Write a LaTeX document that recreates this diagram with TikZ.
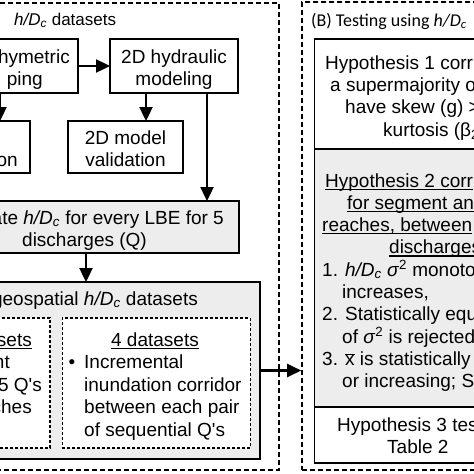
\documentclass[tikz,border=0pt]{standalone}
\usepackage{fontspec}
\setmainfont{Liberation Sans}
\newfontfamily\calibri{Carlito}
\usetikzlibrary{arrows.meta,positioning}
\newcommand{\hDc}{\textit{h/D}\textsubscript{\textit{c}}}
\newcommand{\ulin}[1]{\leavevmode\setbox0\hbox{#1}\rlap{\rule[-2.6pt]{\wd0}{1.1pt}}\box0}
\newcommand{\sq}{\textit{σ}\textsuperscript{2}}
\begin{document}
\begin{tikzpicture}[x=1pt, y=-1pt,
	font=\fontsize{19}{22.3}\selectfont,
	box/.style={draw, line width=1.3pt, inner sep=0pt, outer sep=0pt},
	shade/.style={fill=black!7},
	frame/.style={draw, line width=1.6pt, dash pattern=on 5pt off 3pt, inner sep=0pt},
	dbox/.style={draw, line width=1.2pt, dash pattern=on 3pt off 2pt, fill=white, inner sep=0pt},
	txt/.style={inner sep=0pt, anchor=base west},
	txtr/.style={inner sep=0pt, anchor=base east},
	txtc/.style={inner sep=0pt, anchor=base},
	arr/.style={-{Triangle[length=14pt,width=13pt]}, line width=2.4pt}]
	
	\useasboundingbox (0,0) rectangle (474,474);
	\fill[white] (0,0) rectangle (474,474);
	
	% Two dashed panels
	\node[frame, minimum width=299pt, minimum height=467pt] (panelA) at (129.5,236.5) {};
	\node[frame, minimum width=318pt, minimum height=468pt] (panelB) at (461,236) {};
	\node[txt, font=\fontsize{17}{20}\selectfont] (titleA) at (14,25) {\hDc{} datasets};
	\node[txt, font=\calibri\fontsize{18}{20}\selectfont] (titleB) at (311,26) {(B) Testing using \hDc};
	
	% Panel A: boxes
	\node[box, minimum width=138pt, minimum height=54pt] (bathy) at (9,66) {};
	\node[box, minimum width=128pt, minimum height=54pt, right=32pt of bathy] (hydro) {};
	\node[box, minimum width=115pt, minimum height=52pt] (valid) at (125.5,147) {};
	\node[box, minimum width=110pt, minimum height=52pt] (bval) at (-25,147) {};
	\node[box, shade, minimum width=339pt, minimum height=52pt] (hdc) at (69.5,227) {};
	\node[box, shade, minimum width=360pt, minimum height=177pt] (geo) at (80,370.5) {};
	\node[dbox, minimum width=150pt, minimum height=130pt] (dsfive) at (-25,383) {};
	\node[dbox, minimum width=188pt, minimum height=130pt, right=11pt of dsfive] (dsfour) {};
	
	% Panel A: texts
	\node[txtr] (bathyT1) at (70,63) {hymetric};
	\node[txtr] (bathyT2) at (43,85) {ping};
	\node[txtc] (hydroT1) at (174,63) {2D hydraulic};
	\node[txtc] (hydroT2) at (174,85) {modeling};
	\node[txtc] (validT1) at (125.5,144) {2D model};
	\node[txtc] (validT2) at (125.5,166) {validation};
	\node[txtr] (bvalT) at (18,166) {on};
	\node[txtr] (hdcT1) at (224,224) {ate \hDc{} for every LBE for 5};
	\node[txt] (hdcT2) at (22,246) {discharges (Q)};
	\node[txtr] (geoT) at (198,305) {geospatial \hDc{} datasets};
	\node[txtr] (dsfiveT1) at (32,346) {\ulin{sets}};
	\node[txtr] (dsfiveT2) at (10,368.5) {nt};
	\node[txtr] (dsfiveT3) at (42,391) {5 Q\textquotesingle s};
	\node[txtr] (dsfiveT4) at (32,413.5) {ches};
	\node[txtc] (dsfourT) at (155,346) {\ulin{4 datasets}};
	\node[txtc] (bullet) at (72,368.5) {•};
	\foreach \txt [count=\i] in {Incremental, inundation corridor, between each pair, of sequential Q\textquotesingle s}
		\node[txt] (dsfour\i) at (84,{346+22.5*\i}) {\txt};
	
	% Panel A: arrows
	\coordinate (xa) at (146,0);
	\coordinate (xb) at (207,0);
	\coordinate (xc) at (86,0);
	\coordinate (xd) at (0,0);
	\draw[arr] (bathy.east) -- (hydro.west);
	\draw[arr] (hydro.south -| xa) -- (valid.north -| xa);
	\draw[arr] (hydro.south -| xb) -- (hdc.north -| xb);
	\draw[arr] (bathy.south -| xd) -- (bval.north -| xd);
	\draw[arr] (hdc.south -| xc) -- (geo.north -| xc);
	\draw[arr] (geo.east) -- (panelB.west |- geo.east);
	
	% Panel B: hypothesis boxes
	\node[box, fill=white, minimum width=335pt, minimum height=110pt] (hypone) at (482,94) {};
	\node[box, shade, minimum width=335pt, minimum height=258pt, below=0pt of hypone] (hyptwo) {};
	\node[box, fill=white, minimum width=335pt, minimum height=56pt, below=0pt of hyptwo] (hypthree) {};
	
	% Panel B: texts
	\node[txt] (hoT1) at (325,69) {Hypothesis 1 corr};
	\node[txt] (hoT2) at (330,91) {a supermajority o};
	\node[txt] (hoT3) at (345,113.5) {have skew (g) >};
	\node[txt] (hoT4) at (383,136) {kurtosis (β\textsubscript{2}};
	\node[txt] (htT1) at (325,187) {\ulin{Hypothesis 2 corr}};
	\node[txt] (htT2) at (347,209.3) {\ulin{for segment an}};
	\node[txt] (htT3) at (322,231.6) {\ulin{reaches, between}};
	\node[txt] (htT4) at (389,253.9) {\ulin{discharges}};
	\node[txt] (htT5) at (322,276.2) {1. \hDc{} \sq{} monoto};
	\node[txt] (htT6) at (342,298.5) {increases,};
	\node[txt] (htT7) at (322,320.8) {2. Statistically equ};
	\node[txt] (htT8) at (342,343.1) {of \sq{} is rejected};
	\node[txt] (htT9) at (322,365.4) {3. $\overline{\mbox{x}}$ is statistically};
	\node[txt] (htT10) at (342,387.7) {or increasing; S};
	\node[txt] (hrT1) at (337,431.5) {Hypothesis 3 tes};
	\node[txt] (hrT2) at (387,453) {Table 2};
	
\end{tikzpicture}
\end{document}
